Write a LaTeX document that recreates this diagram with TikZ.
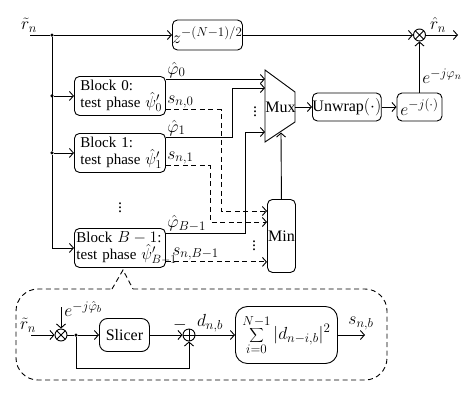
\RequirePackage{fix-cm}
\documentclass[tikz,border=0pt]{standalone}
\usepackage{fontspec}
\setmainfont{Liberation Serif}
\DeclareMathSizes{16}{17.5}{13}{10}
\DeclareMathSizes{15}{16}{12}{9}
\usetikzlibrary{arrows.meta,calc}
\begin{document}
\begin{tikzpicture}[x=1pt,y=-1pt, line width=0.9pt,
  font=\fontsize{16}{17}\selectfont,
  blk/.style={draw, rounded corners=5pt, inner sep=0pt},
  arr/.style={-{Straight Barb[length=4pt,width=9pt,line width=0.9pt]}},
  dsh/.style={dash pattern=on 5pt off 3.5pt},
  dot/.style={circle, fill, inner sep=0pt, minimum size=3.5pt},
  mult/.style={circle, draw, inner sep=0pt, minimum size=12pt, path picture={\draw (path picture bounding box.north west)--(path picture bounding box.south east) (path picture bounding box.north east)--(path picture bounding box.south west);}},
  add/.style={circle, draw, inner sep=0pt, minimum size=12pt, path picture={\draw (path picture bounding box.north)--(path picture bounding box.south) (path picture bounding box.east)--(path picture bounding box.west);}},
  lbl/.style={inner sep=1pt},
  bblk/.style={blk, minimum height=39pt, anchor=north west, align=left, text width=91pt, font=\fontsize{15}{17}\selectfont}]
\useasboundingbox (0,0) rectangle (474,400);
% top path
\coordinate (rin) at (30,35);
\node[dot] (j0) at (52,35) {};
\node[blk, minimum width=56pt, minimum height=30pt, anchor=west] (z) at (172,35) {$z^{-(N-1)/2}$};
\node[mult] (m) at (419.5,35) {};
\coordinate (rout) at (458,35);
\node[lbl] at (29,25) {$\tilde{r}_n$};
\node[lbl] at (438,25) {$\hat{r}_n$};
\draw (rin) -- (j0);
\draw[arr] (j0) -- (z.west);
\draw[arr] (z.east) -- (m.west);
\draw[arr] (m.east) -- (rout);
% blocks
\node[bblk] (b0) at (74,76) {\hspace*{6pt}Block 0:\\\hspace*{6pt}\mbox{test phase $\hat{\psi}'_0$}};
\node[bblk] (b1) at (74,133) {\hspace*{6pt}Block 1:\\\hspace*{6pt}\mbox{test phase $\hat{\psi}'_1$}};
\node[bblk] (bB) at (74,228) {\hspace*{2pt}Block $B-1$:\\\hspace*{2pt}\mbox{test phase $\hat{\psi}'_{B-1}$}};
\node at (120,205) {$\vdots$};
\node[dot] (j1) at (j0 |- b0.west) {};
\node[dot] (j2) at (j0 |- b1.west) {};
\draw (j0) -- (j2);
\draw[arr] (j2) |- (bB.west);
\draw[arr] (j1) -- (b0.west);
\draw[arr] (j2) -- (b1.west);
% mux
\coordinate (mA) at (265,70);
\coordinate (mB) at (295,92);
\coordinate (mC) at (295,122);
\coordinate (mD) at (265,142);
\draw (mA) -- (mB) -- (mC) -- (mD) -- cycle;
\node (mux) at (280.5,107) {Mux};
\node at (255,109) {$\vdots$};
\coordinate (p0) at ($(b0.north east)+(0,3)$);
\coordinate (p1) at ($(b1.north east)+(0,4)$);
\coordinate (pB) at ($(bB.north east)+(0,5)$);
\coordinate (q1) at (232,88);
\coordinate (qB) at (245,132);
\draw[arr] (p0) -- (p0 -| mA);
\draw[arr] (p1) -| (q1) -- (q1 -| mA);
\draw[arr] (pB) -| (qB) -- (qB -| mA);
\node[lbl, anchor=south west] at (p0) {$\hat{\varphi}_0$};
\node[lbl, anchor=south west] at (p1) {$\hat{\varphi}_1$};
\node[lbl, anchor=south west] at (pB) {$\hat{\varphi}_{B-1}$};
% min
\node[blk, minimum width=28pt, minimum height=73pt, anchor=north west] (min) at (267,199) {Min};
\coordinate (mq) at (281,132.5);
\draw[arr] (min.north) -- (mq);
\node at (254,243) {$\vdots$};
\coordinate (s0) at ($(b0.south east)+(0,-6)$);
\coordinate (s1) at ($(b1.south east)+(0,-7)$);
\coordinate (sB) at ($(bB.south east)+(0,-6)$);
\coordinate (t0) at (221,211);
\coordinate (t1) at (210,222);
\draw[arr,dsh] (s0) -| (t0) -- (t0 -| min.west);
\draw[arr,dsh] (s1) -| (t1) -- (t1 -| min.west);
\draw[arr,dsh] (sB) -- (sB -| min.west);
\node[lbl, anchor=south west] at (s0) {$s_{n,0}$};
\node[lbl, anchor=south west] at (s1) {$s_{n,1}$};
\node[lbl, anchor=south west] at ($(sB)+(5,0)$) {$s_{n,B-1}$};
% unwrap
\coordinate (mo) at (295,107);
\node[blk, minimum width=68pt, minimum height=28pt, anchor=west] (unw) at (312,107) {Unwrap$(\cdot)$};
\node[blk, minimum width=45pt, minimum height=28pt] (ej) at (419.5,107) {$e^{-j(\cdot)}$};
\draw[arr] (mo) -- (unw.west);
\draw[arr] (unw.east) -- (ej.west);
\draw[arr] (ej.north) -- (m.south);
\node[lbl, anchor=west] at (421,76) {$e^{-j\varphi_n}$};
% detail panel
\draw[dsh, rounded corners=22pt] (133,289) -- (387,289) -- (387,380) -- (16,380) -- (16,289) -- (112,289);
\draw[dsh] (112,289) -- (123,270) -- (133,289);
\node[lbl] at (28,325) {$\tilde{r}_n$};
\coordinate (bin) at (31,335);
\node[mult] (m2) at (61,335) {};
\coordinate (ein) at (61,307);
\draw[arr] (bin) -- (m2.west);
\draw[arr] (ein) -- (m2.north);
\node[lbl, anchor=west] at (63,309) {$e^{-j\hat{\varphi}_b}$};
\node[dot] (j3) at (76,335) {};
\node[blk, rounded corners=8pt, minimum width=50pt, minimum height=33pt, anchor=west] (sl) at (99,335) {Slicer};
\node[add] (ad) at (189,335) {};
\draw (m2.east) -- (j3);
\draw[arr] (j3) -- (sl.west);
\draw[arr] (sl.east) -- (ad.west);
\node[lbl] at (180,325) {$-$};
\coordinate (fb) at (76,368);
\draw[arr] (j3) -- (fb) -| (ad.south);
\node[blk, rounded corners=12pt, minimum width=102pt, minimum height=57pt, anchor=west] (sum) at (235,335) {$\displaystyle\sum_{i=0}^{N-1}|d_{n-i,b}|^2$};
\draw[arr] (ad.east) -- (sum.west);
\node[lbl] at (210,323) {$d_{n,b}$};
\coordinate (sout) at (365,335);
\draw[arr] (sum.east) -- (sout);
\node[lbl] at (361,323) {$s_{n,b}$};
\end{tikzpicture}
\end{document}
